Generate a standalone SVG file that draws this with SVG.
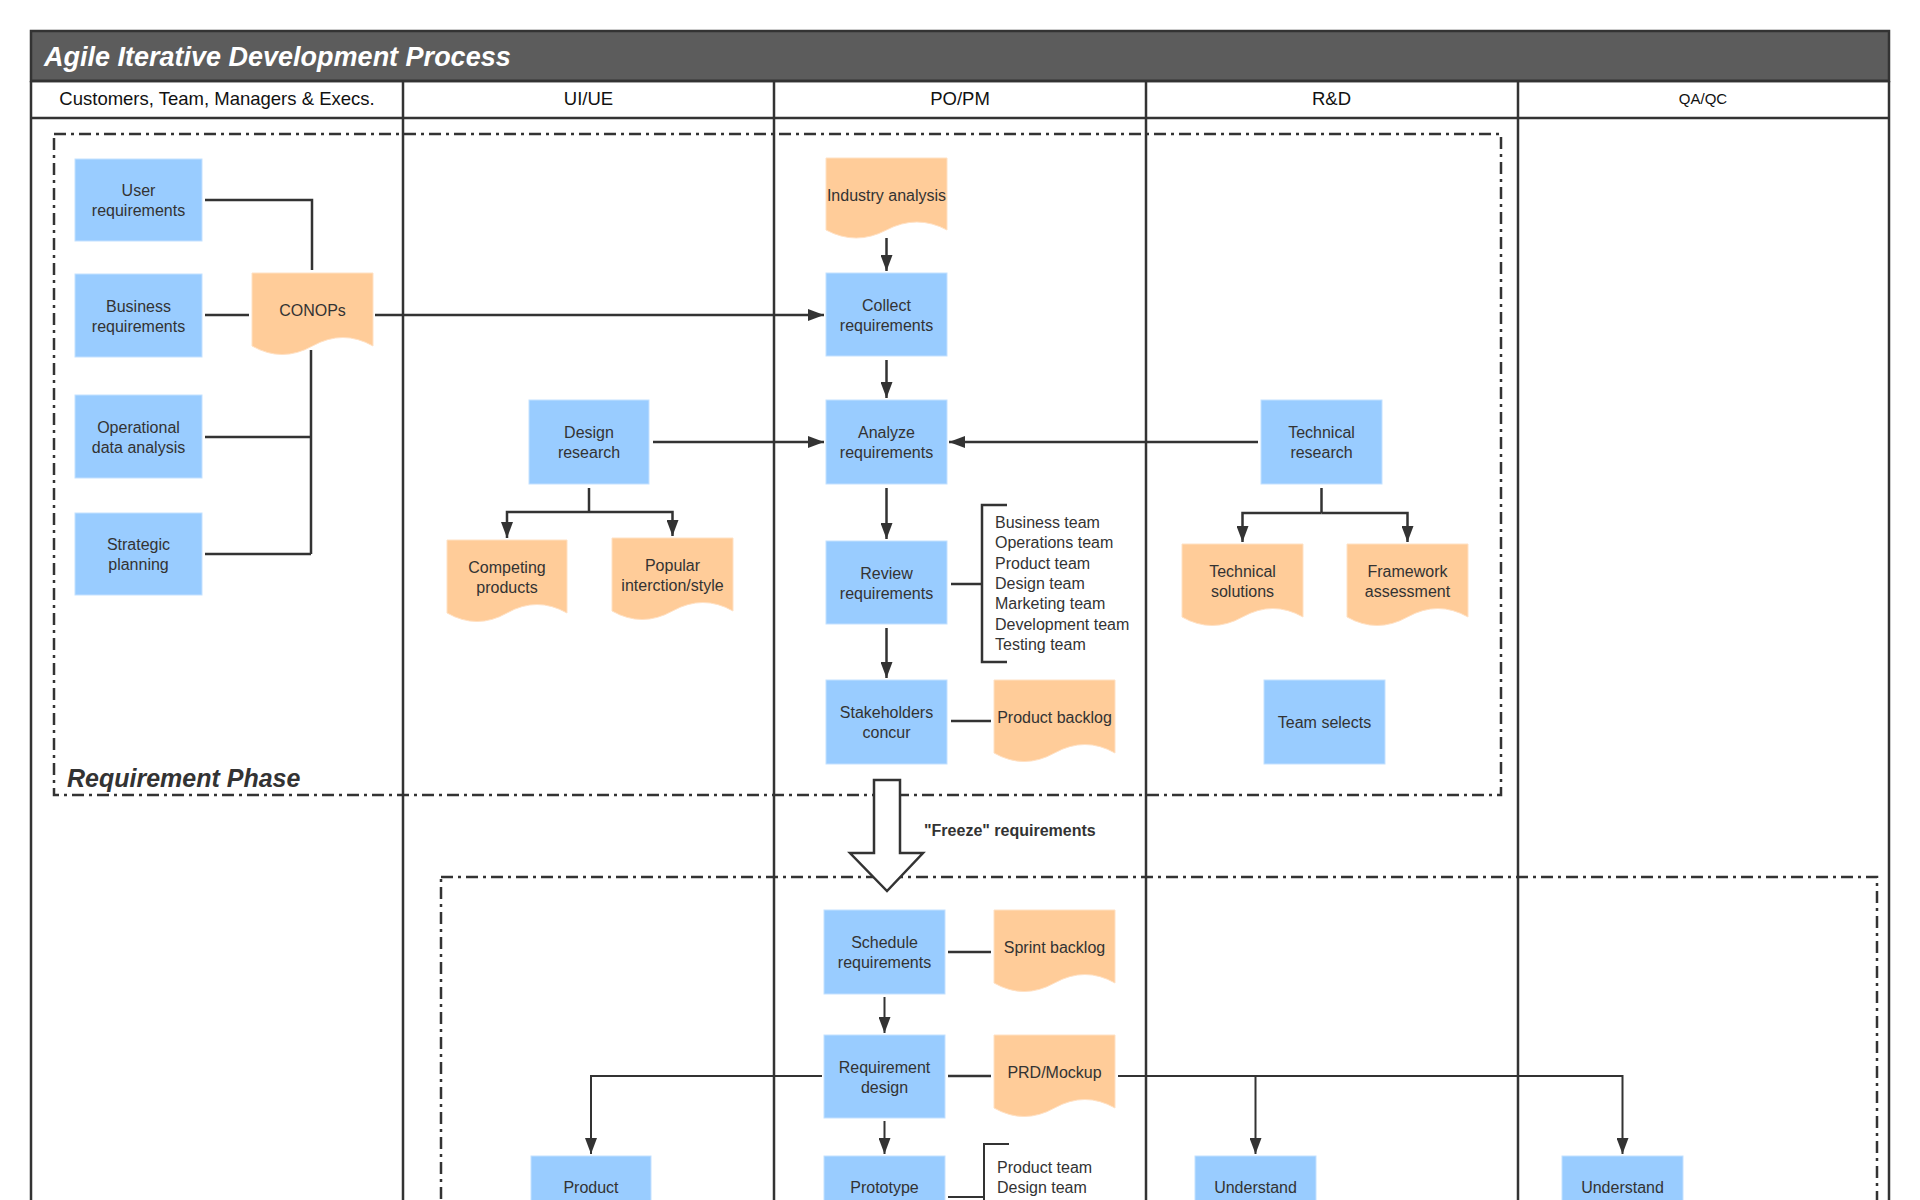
<svg xmlns="http://www.w3.org/2000/svg" width="1920" height="1200" viewBox="0 0 1920 1200">
<defs>
<style>
.box{fill:#99ccff;stroke:#c4e1ff;stroke-width:1}
.doc{fill:#ffcc99;stroke:#ffe1c4;stroke-width:1}
.t{font-family:"Liberation Sans",Arial,sans-serif;font-size:16px;fill:#333;text-anchor:middle}
.tl{font-family:"Liberation Sans",Arial,sans-serif;font-size:16px;fill:#333}
.hd{font-family:"Liberation Sans",Arial,sans-serif;font-size:18.5px;fill:#111;text-anchor:middle}
.ln{fill:none;stroke:#333;stroke-width:2.5}
.ln2{fill:none;stroke:#333;stroke-width:2}
.arr{marker-end:url(#ah)}
.dash{fill:none;stroke:#333;stroke-width:2.5;stroke-dasharray:12 5 3 5}
.lane{fill:none;stroke:#333;stroke-width:2.5}
</style>
<marker id="ah" markerUnits="userSpaceOnUse" markerWidth="16" markerHeight="12" refX="16" refY="6" orient="auto">
<path d="M0,0 L16,6 L0,12 z" fill="#333"/>
</marker>
</defs>
<rect width="1920" height="1200" fill="#fff"/>

<g id="pool">
<rect x="31" y="31" width="1858" height="50" fill="#5c5c5c" stroke="#333" stroke-width="2.5"/>
<text x="44" y="66" font-family="Liberation Sans, Arial, sans-serif" font-size="27" font-weight="bold" font-style="italic" fill="#fff">Agile Iterative Development Process</text>
<path class="lane" d="M31 81 V1202 M1889 81 V1202 M31 81 H1889 M31 118 H1889 M403 81 V1202 M774 81 V1202 M1146 81 V1202 M1518 81 V1202"/>
<text class="hd" x="217" y="105">Customers, Team, Managers &amp; Execs.</text>
<text class="hd" x="588.5" y="105">UI/UE</text>
<text class="hd" x="960" y="105">PO/PM</text>
<text class="hd" x="1331.5" y="105">R&amp;D</text>
<text class="hd" x="1703" y="104" style="font-size:15px">QA/QC</text>
</g>

<g id="phases">
<rect class="dash" x="54" y="134" width="1447" height="661"/>
<text x="67" y="787" font-family="Liberation Sans, Arial, sans-serif" font-size="25" font-weight="bold" font-style="italic" fill="#333">Requirement Phase</text>
<rect class="dash" x="441" y="877" width="1436" height="400"/>
</g>

<g id="connectors">
<path class="ln" d="M205 200 H312 V270"/>
<path class="ln" d="M205 315 H249"/>
<path class="ln" d="M311 350 V554 M205 437 H311 M205 554 H311"/>
<path class="ln arr" d="M375 315 H824"/>
<path class="ln arr" d="M886.5 238 V271"/>
<path class="ln arr" d="M886.5 360 V398"/>
<path class="ln arr" d="M886.5 488 V539"/>
<path class="ln arr" d="M886.5 628 V678"/>
<path class="ln arr" d="M653 442 H824"/>
<path class="ln arr" d="M1258 442 H949"/>
<path class="ln" d="M589 488 V512"/>
<path class="ln arr" d="M589 512 H507 V538"/>
<path class="ln arr" d="M589 512 H672.5 V536"/>
<path class="ln" d="M1321.5 488 V513"/>
<path class="ln arr" d="M1321.5 513 H1242.5 V542"/>
<path class="ln arr" d="M1321.5 513 H1407.5 V542"/>
<path class="ln" d="M951 584 H982 M1007 505 H982 V662 H1007"/>
<path class="ln" d="M951 721 H991"/>
<path class="ln" d="M948 952 H991"/>
<path class="ln2 arr" d="M884.5 997 V1033"/>
<path class="ln2 arr" d="M822 1076 H591 V1154"/>
<path class="ln" d="M948 1076 H991" stroke-width="3"/>
<path class="ln2 arr" d="M1118 1076 H1622.5 V1154"/>
<path class="ln2 arr" d="M1255.5 1076 V1154"/>
<path class="ln2 arr" d="M884.5 1121 V1154"/>
<path class="ln2" d="M948 1197 H984 M1009 1144 H984 V1210"/>
</g>

<g id="n-user"><rect class="box" x="75" y="159" width="127" height="82"/><text class="t" x="138.5" y="196">User</text><text class="t" x="138.5" y="216">requirements</text></g>
<g id="n-business"><rect class="box" x="75" y="274" width="127" height="83"/><text class="t" x="138.5" y="311.5">Business</text><text class="t" x="138.5" y="331.5">requirements</text></g>
<g id="n-operational"><rect class="box" x="75" y="395" width="127" height="83"/><text class="t" x="138.5" y="432.5">Operational</text><text class="t" x="138.5" y="452.5">data analysis</text></g>
<g id="n-strategic"><rect class="box" x="75" y="513" width="127" height="82"/><text class="t" x="138.5" y="550">Strategic</text><text class="t" x="138.5" y="570">planning</text></g>
<g id="n-conops"><path class="doc" d="M252 273 H373 V346 Q343 329 312.5 346 T252 346 Z"/><text class="t" x="312.5" y="316">CONOPs</text></g>

<g id="n-industry"><path class="doc" d="M826 158 H947 V230 Q917 214 886.5 230 T826 230 Z"/><text class="t" x="886.5" y="201">Industry analysis</text></g>
<g id="n-collect"><rect class="box" x="826" y="273" width="121" height="83"/><text class="t" x="886.5" y="310.5">Collect</text><text class="t" x="886.5" y="330.5">requirements</text></g>
<g id="n-analyze"><rect class="box" x="826" y="400" width="121" height="84"/><text class="t" x="886.5" y="438">Analyze</text><text class="t" x="886.5" y="458">requirements</text></g>
<g id="n-review"><rect class="box" x="826" y="541" width="121" height="83"/><text class="t" x="886.5" y="578.5">Review</text><text class="t" x="886.5" y="598.5">requirements</text></g>
<g id="n-teams1"><text class="tl" x="995" y="528">Business team</text><text class="tl" x="995" y="548.3">Operations team</text><text class="tl" x="995" y="568.6">Product team</text><text class="tl" x="995" y="588.9">Design team</text><text class="tl" x="995" y="609.2">Marketing team</text><text class="tl" x="995" y="629.5">Development team</text><text class="tl" x="995" y="649.8">Testing team</text></g>
<g id="n-stakeholders"><rect class="box" x="826" y="680" width="121" height="84"/><text class="t" x="886.5" y="718">Stakeholders</text><text class="t" x="886.5" y="738">concur</text></g>
<g id="n-productbacklog"><path class="doc" d="M994 680 H1115 V753 Q1085 736 1054.5 753 T994 753 Z"/><text class="t" x="1054.5" y="723">Product backlog</text></g>

<g id="n-design"><rect class="box" x="529" y="400" width="120" height="84"/><text class="t" x="589" y="438">Design</text><text class="t" x="589" y="458">research</text></g>
<g id="n-competing"><path class="doc" d="M447 540 H567 V613 Q537 596 507 613 T447 613 Z"/><text class="t" x="507" y="573">Competing</text><text class="t" x="507" y="593">products</text></g>
<g id="n-popular"><path class="doc" d="M612 538 H733 V611 Q703 594 672.5 611 T612 611 Z"/><text class="t" x="672.5" y="571">Popular</text><text class="t" x="672.5" y="591">interction/style</text></g>

<g id="n-techresearch"><rect class="box" x="1261" y="400" width="121" height="84"/><text class="t" x="1321.5" y="438">Technical</text><text class="t" x="1321.5" y="458">research</text></g>
<g id="n-techsolutions"><path class="doc" d="M1182 544 H1303 V617 Q1273 600 1242.5 617 T1182 617 Z"/><text class="t" x="1242.5" y="577">Technical</text><text class="t" x="1242.5" y="597">solutions</text></g>
<g id="n-framework"><path class="doc" d="M1347 544 H1468 V617 Q1438 600 1407.5 617 T1347 617 Z"/><text class="t" x="1407.5" y="577">Framework</text><text class="t" x="1407.5" y="597">assessment</text></g>
<g id="n-teamselects"><rect class="box" x="1264" y="680" width="121" height="84"/><text class="t" x="1324.5" y="727.5">Team selects</text></g>

<g id="n-freeze">
<path d="M874 780 H900 V853 H923 L887 891 L850 853 H874 Z" fill="#fff" stroke="#333" stroke-width="2.5" stroke-linejoin="miter"/>
<text x="924" y="836" font-family="Liberation Sans, Arial, sans-serif" font-size="16" font-weight="bold" fill="#333">"Freeze" requirements</text>
</g>

<g id="n-schedule"><rect class="box" x="824" y="910" width="121" height="84"/><text class="t" x="884.5" y="948">Schedule</text><text class="t" x="884.5" y="968">requirements</text></g>
<g id="n-sprint"><path class="doc" d="M994 910 H1115 V983 Q1085 966 1054.5 983 T994 983 Z"/><text class="t" x="1054.5" y="953">Sprint backlog</text></g>
<g id="n-reqdesign"><rect class="box" x="824" y="1035" width="121" height="83"/><text class="t" x="884.5" y="1072.5">Requirement</text><text class="t" x="884.5" y="1092.5">design</text></g>
<g id="n-prd"><path class="doc" d="M994 1035 H1115 V1108 Q1085 1091 1054.5 1108 T994 1108 Z"/><text class="t" x="1054.5" y="1078">PRD/Mockup</text></g>
<g id="n-prototype"><rect class="box" x="824" y="1156" width="121" height="83"/><text class="t" x="884.5" y="1192.5">Prototype</text></g>
<g id="n-teams2"><text class="tl" x="997" y="1173">Product team</text><text class="tl" x="997" y="1193">Design team</text></g>
<g id="n-product"><rect class="box" x="531" y="1156" width="120" height="83"/><text class="t" x="591" y="1192.5">Product</text></g>
<g id="n-understand1"><rect class="box" x="1195" y="1156" width="121" height="83"/><text class="t" x="1255.5" y="1192.5">Understand</text></g>
<g id="n-understand2"><rect class="box" x="1562" y="1156" width="121" height="83"/><text class="t" x="1622.5" y="1192.5">Understand</text></g>
</svg>
